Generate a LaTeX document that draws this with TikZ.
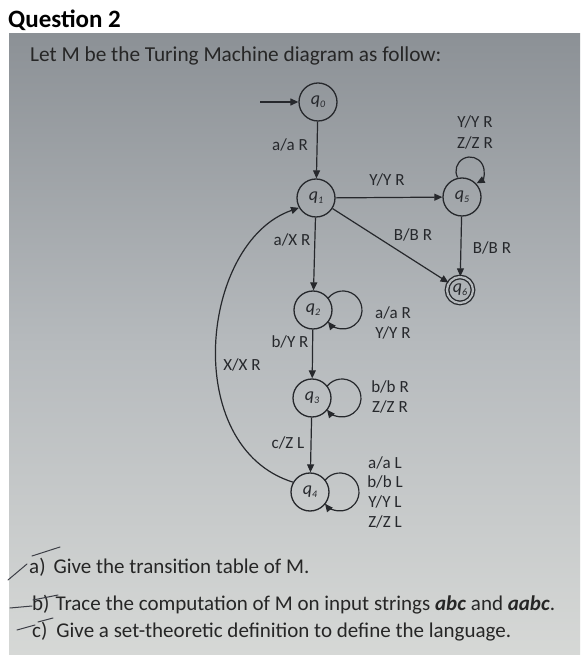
\documentclass[tikz,border=0pt]{standalone}
\usepackage{fontspec}
\setmainfont{Carlito}
\usetikzlibrary{arrows.meta}
\definecolor{ink}{RGB}{38,40,44}
\definecolor{gtop}{RGB}{140,145,150}
\definecolor{gmid}{RGB}{182,186,189}
\definecolor{gbot}{RGB}{214,216,214}
\definecolor{pen}{RGB}{60,62,70}
\newcommand{\qs}[1]{\textit{q}\raisebox{-3pt}{\fontsize{10}{10}\selectfont\textit{#1}}}
\begin{document}
\begin{tikzpicture}[x=1pt,y=1pt,
  state/.style={circle,draw=ink,line width=1.3pt,minimum size=38pt,inner sep=0pt,text=ink,font=\fontsize{18}{18}\selectfont},
  accept/.style={state,double=gmid,double distance=2.2pt,minimum size=26pt},
  lbl/.style={text=ink,font=\fontsize{17}{17}\selectfont,inner sep=0pt},
  tr/.style={draw=ink,line width=1.2pt,-{Triangle[length=8pt,width=7pt]}},
  q/.style={font=\fontsize{21}{21}\selectfont,text=black!85,anchor=base west,inner sep=0pt},
  penmark/.style={draw=pen,line width=1pt,line cap=round}]
\useasboundingbox (0,0) rectangle (587,662);
\fill[white] (0,0) rectangle (587,662);
\shade[top color=gtop,bottom color=gbot,middle color=gmid] (9,7) rectangle (580,628);
\node[anchor=base west,inner sep=0pt,font=\fontsize{25}{25}\selectfont\bfseries] (title) at (8,634) {Question 2};
\node[anchor=base west,inner sep=0pt,text=black!85,font=\fontsize{21.3}{21.3}\selectfont] (intro) at (30,600) {Let M be the Turing Machine diagram as follow:};
% states
\node[state] (q0) at (318,560) {\qs{0}};
\node[state] (q1) at (316,464) {\qs{1}};
\node[state] (q5) at (462,465) {\qs{5}};
\node[accept] (q6) at (460,372) {\qs{6}};
\node[state] (q2) at (313,352) {\qs{2}};
\node[state] (q3) at (312,264) {\qs{3}};
\node[state] (q4) at (310,170) {\qs{4}};
\coordinate (init) at (260,560);
% transitions
\draw[tr] (init) -- (q0);
\draw[tr] (q0) -- (q1);
\draw[tr] (q1) -- (q5);
\draw[tr] (q1) -- (q6);
\draw[tr] (q5) -- (q6);
\draw[tr] (q1) -- (q2);
\draw[tr] (q2) -- (q3);
\draw[tr] (q3) -- (q4);
\draw[tr] (q4.150) .. controls (180,215) and (200,420) .. (q1.210);
% loops
\draw[tr] ([shift={(15,11.7)}]q2.center) arc[start angle=142,end angle=-142,radius=19];
\draw[tr] ([shift={(15,11.7)}]q3.center) arc[start angle=142,end angle=-142,radius=19];
\draw[tr] ([shift={(15,11.7)}]q4.center) arc[start angle=142,end angle=-142,radius=19];
\draw[tr] ([shift={(-4.4,19.5)}]q5.center) arc[start angle=207.7,end angle=-61.8,radius=14];
% labels
\node[lbl] (l01) at (290,517) {a/a R};
\node[lbl] (l15) at (387,482) {Y/Y R};
\node[lbl] (l55a) at (475,540) {Y/Y R};
\node[lbl] (l55b) at (475,519) {Z/Z R};
\node[lbl] (l12) at (292,422) {a/X R};
\node[lbl] (l16) at (413,427) {B/B R};
\node[lbl] (l56) at (492,414) {B/B R};
\node[lbl] (l22a) at (393,349) {a/a R};
\node[lbl] (l22b) at (393,329) {Y/Y R};
\node[lbl] (l23) at (290,320) {b/Y R};
\node[lbl] (l41) at (242,297) {X/X R};
\node[lbl] (l33a) at (390,275) {b/b R};
\node[lbl] (l33b) at (390,255) {Z/Z R};
\node[lbl] (l34) at (288,219) {c/Z L};
\node[lbl] (l44a) at (385,199) {a/a L};
\node[lbl] (l44b) at (385,180) {b/b L};
\node[lbl] (l44c) at (385,160) {Y/Y L};
\node[lbl] (l44d) at (385,140) {Z/Z L};
% questions
\node[q] (qa) at (29,88) {a)\hspace{8pt}Give the transition table of M.};
\node[q] (qb) at (32,51) {b)\hspace{6pt}Trace the computation of M on input strings \textbf{\textit{abc}} and \textbf{\textit{aabc}}.};
\node[q] (qc) at (32,24) {c)\hspace{9pt}Give a set-theoretic definition to define the language.};
% pen marks
\draw[penmark] (8,82) -- (27,98);
\draw[penmark] (32,106) -- (60,115);
\draw[penmark] (10,54) -- (32,56);
\draw[penmark] (33,62) -- (58,67);
\draw[penmark] (17,32) -- (35,37);
\draw[penmark] (38,40) -- (53,44);
\end{tikzpicture}
\end{document}
